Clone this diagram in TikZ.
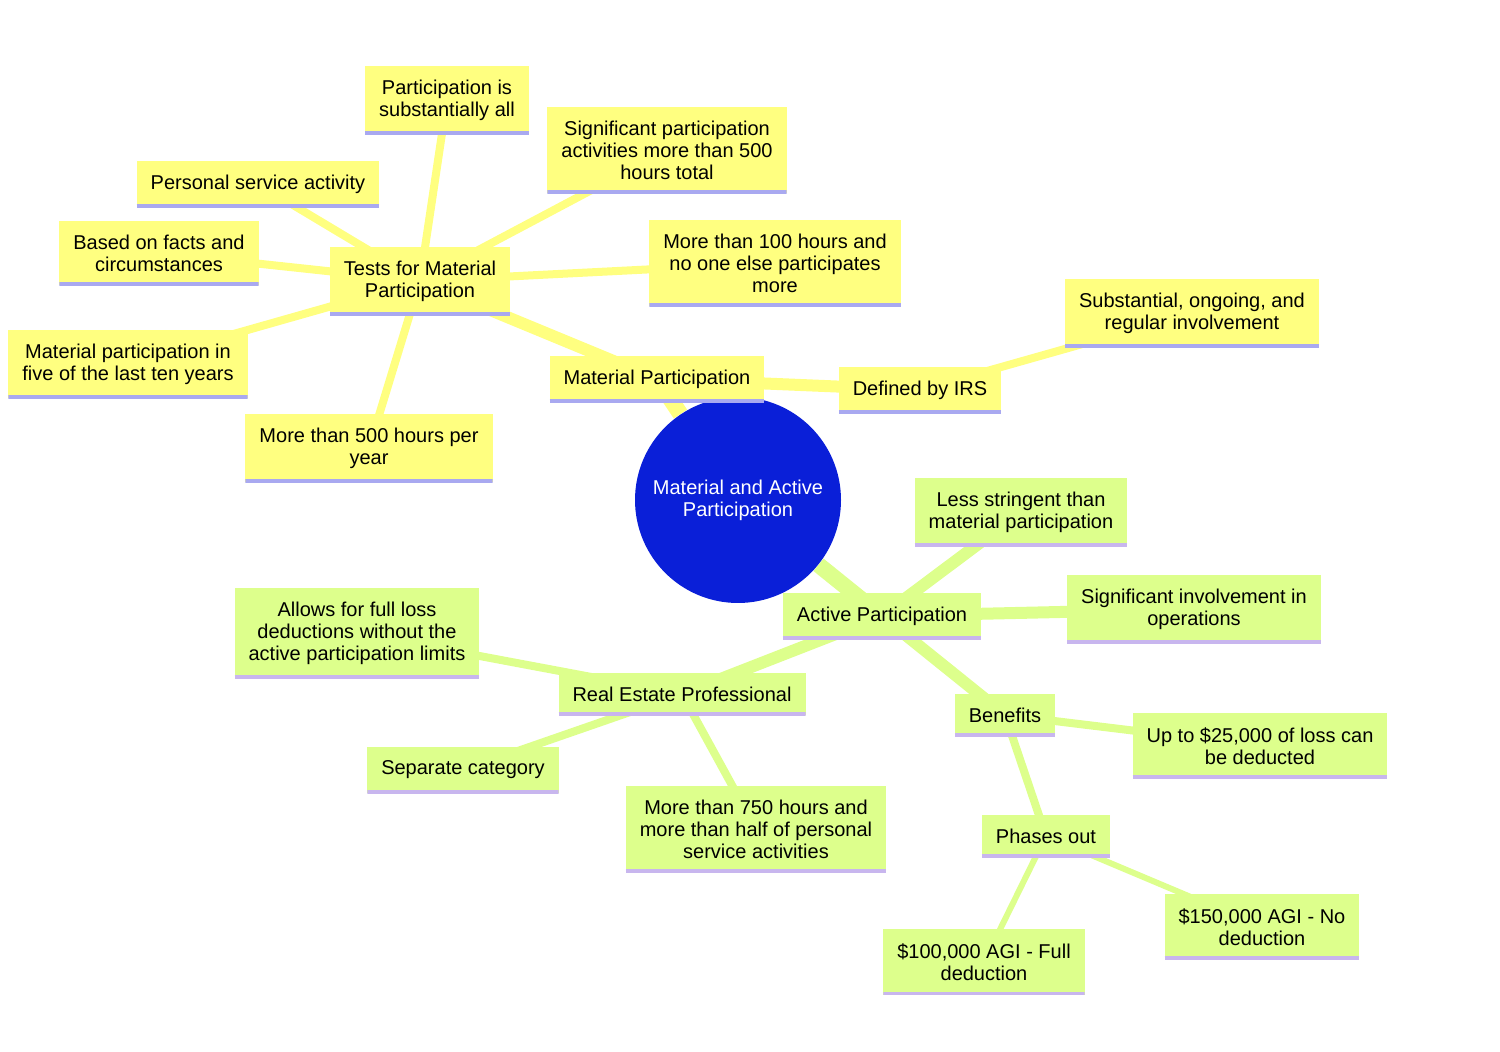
\documentclass[tikz,border=0pt]{standalone}
\usepackage{fontspec}
\setmainfont{Liberation Sans}
\usetikzlibrary{backgrounds}
\definecolor{rootblue}{HTML}{0A1FD8}
\definecolor{yel}{HTML}{FFFF80}
\definecolor{yelline}{HTML}{A9A9F0}
\definecolor{grn}{HTML}{DDFF8C}
\definecolor{grnline}{HTML}{C8B6EE}
\tikzset{
  box/.style = {rectangle, align=center, font=\fontsize{10}{11}\selectfont,
    inner xsep=7pt, inner ysep=7pt,
    path picture={\draw[line width=3pt,#1] (path picture bounding box.south west) -- (path picture bounding box.south east);}},
  ybox/.style = {box=yelline, fill=yel},
  gbox/.style = {box=grnline, fill=grn},
  ylink/.style = {draw=yel, line width=#1},
  glink/.style = {draw=grn, line width=#1}
}

\begin{document}
\begin{tikzpicture}[x=0.5pt,y=-0.5pt]
  \useasboundingbox (0,0) rectangle (1500,1052);
  % root
  \node[circle, fill=rootblue, text=white, minimum size=103pt, align=center,
    font=\fontsize{10}{11}\selectfont] (root) at (738,500) {Material and Active\\Participation};
  % material participation branch
  \node[ybox] (mat) at (657,379) {Material Participation};
  \node[ybox] (tests) at (420,281) {Tests for Material\\Participation};
  \node[ybox] (all) at (447,100) {Participation is\\substantially all};
  \node[ybox] (sig) at (667,150) {Significant participation\\activities more than 500\\hours total};
  \node[ybox] (pers) at (258,184) {Personal service activity};
  \node[ybox] (facts) at (159,253) {Based on facts and\\circumstances};
  \node[ybox] (hund) at (775,263) {More than 100 hours and\\no one else participates\\more};
  \node[ybox] (five) at (128,364) {Material participation in\\five of the last ten years};
  \node[ybox] (five00) at (369,448) {More than 500 hours per\\year};
  \node[ybox] (irs) at (920,390) {Defined by IRS};
  \node[ybox] (subst) at (1192,313) {Substantial, ongoing, and\\regular involvement};
  % active participation branch
  \node[gbox] (act) at (882,616) {Active Participation};
  \node[gbox] (less) at (1021,512) {Less stringent than\\material participation};
  \node[gbox] (ops) at (1194,609) {Significant involvement in\\operations};
  \node[gbox] (rep) at (682,694) {Real Estate Professional};
  \node[gbox] (full) at (357,633) {Allows for full loss\\deductions without the\\active participation limits};
  \node[gbox] (sep) at (463,770) {Separate category};
  \node[gbox] (seven) at (756,829) {More than 750 hours and\\more than half of personal\\service activities};
  \node[gbox] (ben) at (1005,715) {Benefits};
  \node[gbox] (up) at (1260,746) {Up to \$25,000 of loss can\\be deducted};
  \node[gbox] (phase) at (1046,836) {Phases out};
  \node[gbox] (low) at (984,962) {\$100,000 AGI - Full\\deduction};
  \node[gbox] (high) at (1262,927) {\$150,000 AGI - No\\deduction};
  % links
  \begin{pgfonlayer}{background}
    \draw[ylink=8pt] (root) -- (mat.center);
    \draw[ylink=6pt] (mat.center) -- (tests.center);
    \draw[ylink=6pt] (mat.center) -- (irs.center);
    \foreach \n in {all,sig,pers,facts,hund,five,five00}
      \draw[ylink=4pt] (tests.center) -- (\n.center);
    \draw[ylink=4pt] (irs.center) -- (subst.center);
    \draw[glink=8pt] (root) -- (act.center);
    \foreach \n in {less,ops,rep,ben}
      \draw[glink=6pt] (act.center) -- (\n.center);
    \foreach \n in {full,sep,seven}
      \draw[glink=4pt] (rep.center) -- (\n.center);
    \draw[glink=4pt] (ben.center) -- (up.center);
    \draw[glink=4pt] (ben.center) -- (phase.center);
    \draw[glink=3pt] (phase.center) -- (low.center);
    \draw[glink=3pt] (phase.center) -- (high.center);
  \end{pgfonlayer}
\end{tikzpicture}
\end{document}
